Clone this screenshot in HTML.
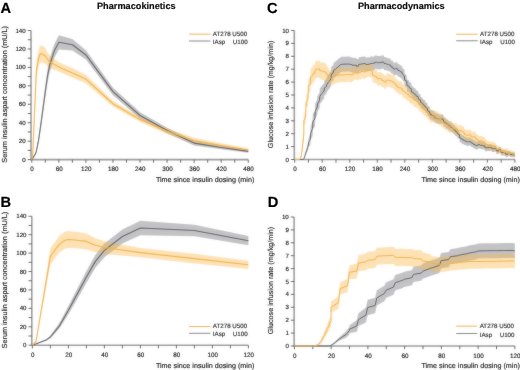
<!DOCTYPE html>
<html><head><meta charset="utf-8"><style>html,body{margin:0;padding:0;background:#fff;overflow:hidden}svg{display:block;text-rendering:geometricPrecision}#w{width:520px;height:370px;overflow:hidden;will-change:transform}</style></head>
<body><div id="w"><svg width="520" height="370" viewBox="0 0 520 370" font-family="Liberation Sans, sans-serif">
<defs><filter id="bl" x="-2%" y="-2%" width="104%" height="104%"><feGaussianBlur stdDeviation="1"/></filter></defs>
<rect width="520" height="370" fill="#fff"/>
<g id="c">
<rect width="520" height="370" fill="#fff"/>
<line x1="31" y1="30.52" x2="31" y2="160.2" stroke="#999" stroke-width="1.6"/>
<line x1="30.4" y1="159.6" x2="248.28" y2="159.6" stroke="#999" stroke-width="1.6"/>
<line x1="27.7" y1="159.6" x2="31" y2="159.6" stroke="#555" stroke-width="0.9"/>
<line x1="27.7" y1="150.38" x2="31" y2="150.38" stroke="#555" stroke-width="0.9"/>
<line x1="27.7" y1="141.16" x2="31" y2="141.16" stroke="#555" stroke-width="0.9"/>
<line x1="27.7" y1="131.94" x2="31" y2="131.94" stroke="#555" stroke-width="0.9"/>
<line x1="27.7" y1="122.72" x2="31" y2="122.72" stroke="#555" stroke-width="0.9"/>
<line x1="27.7" y1="113.5" x2="31" y2="113.5" stroke="#555" stroke-width="0.9"/>
<line x1="27.7" y1="104.28" x2="31" y2="104.28" stroke="#555" stroke-width="0.9"/>
<line x1="27.7" y1="95.06" x2="31" y2="95.06" stroke="#555" stroke-width="0.9"/>
<line x1="27.7" y1="85.84" x2="31" y2="85.84" stroke="#555" stroke-width="0.9"/>
<line x1="27.7" y1="76.62" x2="31" y2="76.62" stroke="#555" stroke-width="0.9"/>
<line x1="27.7" y1="67.4" x2="31" y2="67.4" stroke="#555" stroke-width="0.9"/>
<line x1="27.7" y1="58.18" x2="31" y2="58.18" stroke="#555" stroke-width="0.9"/>
<line x1="27.7" y1="48.96" x2="31" y2="48.96" stroke="#555" stroke-width="0.9"/>
<line x1="27.7" y1="39.74" x2="31" y2="39.74" stroke="#555" stroke-width="0.9"/>
<line x1="27.7" y1="30.52" x2="31" y2="30.52" stroke="#555" stroke-width="0.9"/>
<text x="25.7" y="161.6" font-size="6.15" text-anchor="end" font-weight="normal" fill="#000" stroke="#000" stroke-width="0.14" >0</text>
<text x="25.7" y="143.16" font-size="6.15" text-anchor="end" font-weight="normal" fill="#000" stroke="#000" stroke-width="0.14" >20</text>
<text x="25.7" y="124.72" font-size="6.15" text-anchor="end" font-weight="normal" fill="#000" stroke="#000" stroke-width="0.14" >40</text>
<text x="25.7" y="106.28" font-size="6.15" text-anchor="end" font-weight="normal" fill="#000" stroke="#000" stroke-width="0.14" >60</text>
<text x="25.7" y="87.84" font-size="6.15" text-anchor="end" font-weight="normal" fill="#000" stroke="#000" stroke-width="0.14" >80</text>
<text x="25.7" y="69.4" font-size="6.15" text-anchor="end" font-weight="normal" fill="#000" stroke="#000" stroke-width="0.14" >100</text>
<text x="25.7" y="50.96" font-size="6.15" text-anchor="end" font-weight="normal" fill="#000" stroke="#000" stroke-width="0.14" >120</text>
<text x="25.7" y="32.52" font-size="6.15" text-anchor="end" font-weight="normal" fill="#000" stroke="#000" stroke-width="0.14" >140</text>
<line x1="31.8" y1="159.6" x2="31.8" y2="162.8" stroke="#555" stroke-width="0.9"/>
<line x1="45.33" y1="159.6" x2="45.33" y2="162.8" stroke="#555" stroke-width="0.9"/>
<line x1="58.86" y1="159.6" x2="58.86" y2="162.8" stroke="#555" stroke-width="0.9"/>
<line x1="72.39" y1="159.6" x2="72.39" y2="162.8" stroke="#555" stroke-width="0.9"/>
<line x1="85.92" y1="159.6" x2="85.92" y2="162.8" stroke="#555" stroke-width="0.9"/>
<line x1="99.45" y1="159.6" x2="99.45" y2="162.8" stroke="#555" stroke-width="0.9"/>
<line x1="112.98" y1="159.6" x2="112.98" y2="162.8" stroke="#555" stroke-width="0.9"/>
<line x1="126.51" y1="159.6" x2="126.51" y2="162.8" stroke="#555" stroke-width="0.9"/>
<line x1="140.04" y1="159.6" x2="140.04" y2="162.8" stroke="#555" stroke-width="0.9"/>
<line x1="153.57" y1="159.6" x2="153.57" y2="162.8" stroke="#555" stroke-width="0.9"/>
<line x1="167.1" y1="159.6" x2="167.1" y2="162.8" stroke="#555" stroke-width="0.9"/>
<line x1="180.63" y1="159.6" x2="180.63" y2="162.8" stroke="#555" stroke-width="0.9"/>
<line x1="194.16" y1="159.6" x2="194.16" y2="162.8" stroke="#555" stroke-width="0.9"/>
<line x1="207.69" y1="159.6" x2="207.69" y2="162.8" stroke="#555" stroke-width="0.9"/>
<line x1="221.22" y1="159.6" x2="221.22" y2="162.8" stroke="#555" stroke-width="0.9"/>
<line x1="234.75" y1="159.6" x2="234.75" y2="162.8" stroke="#555" stroke-width="0.9"/>
<line x1="248.28" y1="159.6" x2="248.28" y2="162.8" stroke="#555" stroke-width="0.9"/>
<text x="32.1" y="171.4" font-size="6.3" text-anchor="middle" font-weight="normal" fill="#000" stroke="#000" stroke-width="0.14" >0</text>
<text x="59.16" y="171.4" font-size="6.3" text-anchor="middle" font-weight="normal" fill="#000" stroke="#000" stroke-width="0.14" >60</text>
<text x="86.22" y="171.4" font-size="6.3" text-anchor="middle" font-weight="normal" fill="#000" stroke="#000" stroke-width="0.14" >120</text>
<text x="113.28" y="171.4" font-size="6.3" text-anchor="middle" font-weight="normal" fill="#000" stroke="#000" stroke-width="0.14" >180</text>
<text x="140.34" y="171.4" font-size="6.3" text-anchor="middle" font-weight="normal" fill="#000" stroke="#000" stroke-width="0.14" >240</text>
<text x="167.4" y="171.4" font-size="6.3" text-anchor="middle" font-weight="normal" fill="#000" stroke="#000" stroke-width="0.14" >300</text>
<text x="194.46" y="171.4" font-size="6.3" text-anchor="middle" font-weight="normal" fill="#000" stroke="#000" stroke-width="0.14" >360</text>
<text x="221.52" y="171.4" font-size="6.3" text-anchor="middle" font-weight="normal" fill="#000" stroke="#000" stroke-width="0.14" >420</text>
<text x="248.58" y="171.4" font-size="6.3" text-anchor="middle" font-weight="normal" fill="#000" stroke="#000" stroke-width="0.14" >480</text>
<path d="M31.8,159.6 L35.41,153.15 L36.31,149.83 L38.56,137.47 L40.82,120.41 L43.08,102.9 L45.33,85.38 L47.59,69.24 L49.84,57.72 L54.35,43.89 L58.86,35.13 L72.39,39.09 L85.92,50.34 L112.98,87.87 L140.04,112.3 L167.1,127.7 L194.16,140.79 L221.22,145.59 L248.28,150.01 L248.28,152.78 L221.22,149.27 L194.16,145.4 L167.1,133.23 L140.04,118.76 L112.98,95.24 L85.92,59.56 L72.39,50.53 L58.86,49.51 L54.35,57.72 L49.84,71.55 L47.59,82.15 L45.33,97.36 L43.08,113.04 L40.82,128.71 L38.56,143 L36.31,152.78 L35.41,154.99 L31.8,159.6Z" fill="rgba(105,106,110,0.40)" stroke="none"/>
<path d="M31.8,159.6 L32.7,154.99 L36.31,62.33 L37.66,54.95 L38.56,50.16 L39.92,45.92 L40.82,45.18 L43.08,46.19 L45.33,47.85 L47.59,52.65 L49.84,55.41 L58.86,62.33 L72.39,68.05 L85.92,74.96 L112.98,100.96 L140.04,116.91 L167.1,128.44 L194.16,137.75 L221.22,143.19 L248.28,148.17 L248.28,151.86 L221.22,147.8 L194.16,143.28 L167.1,133.97 L140.04,122.07 L112.98,106.49 L85.92,83.26 L72.39,77.82 L58.86,71.55 L49.84,68.32 L47.59,66.48 L45.33,63.53 L43.08,62.79 L40.82,62.33 L39.92,63.07 L38.56,67.12 L37.66,71.55 L36.31,78.92 L32.7,156.83 L31.8,159.6Z" fill="rgba(250,182,70,0.40)" stroke="none"/>
<path d="M31.8,159.6 L35.41,154.07 L36.31,151.3 L38.56,140.24 L40.82,124.56 L43.08,107.97 L45.33,91.37 L47.59,75.7 L49.84,64.63 L54.35,50.8 L58.86,42.32 L72.39,44.81 L85.92,54.95 L112.98,91.56 L140.04,115.53 L167.1,130.46 L194.16,143.1 L221.22,147.43 L248.28,151.39" fill="none" stroke="#606366" stroke-width="1.1" stroke-linejoin="round"/>
<path d="M31.8,159.6 L32.7,155.91 L36.31,70.63 L37.66,63.25 L38.56,58.64 L39.92,54.49 L40.82,53.75 L43.08,54.49 L45.33,55.69 L47.59,59.56 L49.84,61.87 L58.86,66.94 L72.39,72.93 L85.92,79.11 L112.98,103.73 L140.04,119.49 L167.1,131.2 L194.16,140.51 L221.22,145.49 L248.28,150.01" fill="none" stroke="#F2B346" stroke-width="1.1" stroke-linejoin="round"/>
<line x1="31.8" y1="216.26" x2="31.8" y2="345.8" stroke="#999" stroke-width="1.6"/>
<line x1="31.2" y1="345.2" x2="248.4" y2="345.2" stroke="#999" stroke-width="1.6"/>
<line x1="28.5" y1="345.2" x2="31.8" y2="345.2" stroke="#555" stroke-width="0.9"/>
<line x1="28.5" y1="335.99" x2="31.8" y2="335.99" stroke="#555" stroke-width="0.9"/>
<line x1="28.5" y1="326.78" x2="31.8" y2="326.78" stroke="#555" stroke-width="0.9"/>
<line x1="28.5" y1="317.57" x2="31.8" y2="317.57" stroke="#555" stroke-width="0.9"/>
<line x1="28.5" y1="308.36" x2="31.8" y2="308.36" stroke="#555" stroke-width="0.9"/>
<line x1="28.5" y1="299.15" x2="31.8" y2="299.15" stroke="#555" stroke-width="0.9"/>
<line x1="28.5" y1="289.94" x2="31.8" y2="289.94" stroke="#555" stroke-width="0.9"/>
<line x1="28.5" y1="280.73" x2="31.8" y2="280.73" stroke="#555" stroke-width="0.9"/>
<line x1="28.5" y1="271.52" x2="31.8" y2="271.52" stroke="#555" stroke-width="0.9"/>
<line x1="28.5" y1="262.31" x2="31.8" y2="262.31" stroke="#555" stroke-width="0.9"/>
<line x1="28.5" y1="253.1" x2="31.8" y2="253.1" stroke="#555" stroke-width="0.9"/>
<line x1="28.5" y1="243.89" x2="31.8" y2="243.89" stroke="#555" stroke-width="0.9"/>
<line x1="28.5" y1="234.68" x2="31.8" y2="234.68" stroke="#555" stroke-width="0.9"/>
<line x1="28.5" y1="225.47" x2="31.8" y2="225.47" stroke="#555" stroke-width="0.9"/>
<line x1="28.5" y1="216.26" x2="31.8" y2="216.26" stroke="#555" stroke-width="0.9"/>
<text x="26.5" y="347.2" font-size="6.15" text-anchor="end" font-weight="normal" fill="#000" stroke="#000" stroke-width="0.14" >0</text>
<text x="26.5" y="328.78" font-size="6.15" text-anchor="end" font-weight="normal" fill="#000" stroke="#000" stroke-width="0.14" >20</text>
<text x="26.5" y="310.36" font-size="6.15" text-anchor="end" font-weight="normal" fill="#000" stroke="#000" stroke-width="0.14" >40</text>
<text x="26.5" y="291.94" font-size="6.15" text-anchor="end" font-weight="normal" fill="#000" stroke="#000" stroke-width="0.14" >60</text>
<text x="26.5" y="273.52" font-size="6.15" text-anchor="end" font-weight="normal" fill="#000" stroke="#000" stroke-width="0.14" >80</text>
<text x="26.5" y="255.1" font-size="6.15" text-anchor="end" font-weight="normal" fill="#000" stroke="#000" stroke-width="0.14" >100</text>
<text x="26.5" y="236.68" font-size="6.15" text-anchor="end" font-weight="normal" fill="#000" stroke="#000" stroke-width="0.14" >120</text>
<text x="26.5" y="218.26" font-size="6.15" text-anchor="end" font-weight="normal" fill="#000" stroke="#000" stroke-width="0.14" >140</text>
<line x1="32.4" y1="345.2" x2="32.4" y2="348.4" stroke="#555" stroke-width="0.9"/>
<line x1="50.4" y1="345.2" x2="50.4" y2="348.4" stroke="#555" stroke-width="0.9"/>
<line x1="68.4" y1="345.2" x2="68.4" y2="348.4" stroke="#555" stroke-width="0.9"/>
<line x1="86.4" y1="345.2" x2="86.4" y2="348.4" stroke="#555" stroke-width="0.9"/>
<line x1="104.4" y1="345.2" x2="104.4" y2="348.4" stroke="#555" stroke-width="0.9"/>
<line x1="122.4" y1="345.2" x2="122.4" y2="348.4" stroke="#555" stroke-width="0.9"/>
<line x1="140.4" y1="345.2" x2="140.4" y2="348.4" stroke="#555" stroke-width="0.9"/>
<line x1="158.4" y1="345.2" x2="158.4" y2="348.4" stroke="#555" stroke-width="0.9"/>
<line x1="176.4" y1="345.2" x2="176.4" y2="348.4" stroke="#555" stroke-width="0.9"/>
<line x1="194.4" y1="345.2" x2="194.4" y2="348.4" stroke="#555" stroke-width="0.9"/>
<line x1="212.4" y1="345.2" x2="212.4" y2="348.4" stroke="#555" stroke-width="0.9"/>
<line x1="230.4" y1="345.2" x2="230.4" y2="348.4" stroke="#555" stroke-width="0.9"/>
<line x1="248.4" y1="345.2" x2="248.4" y2="348.4" stroke="#555" stroke-width="0.9"/>
<text x="32.7" y="357" font-size="6.3" text-anchor="middle" font-weight="normal" fill="#000" stroke="#000" stroke-width="0.14" >0</text>
<text x="68.7" y="357" font-size="6.3" text-anchor="middle" font-weight="normal" fill="#000" stroke="#000" stroke-width="0.14" >20</text>
<text x="104.7" y="357" font-size="6.3" text-anchor="middle" font-weight="normal" fill="#000" stroke="#000" stroke-width="0.14" >40</text>
<text x="140.7" y="357" font-size="6.3" text-anchor="middle" font-weight="normal" fill="#000" stroke="#000" stroke-width="0.14" >60</text>
<text x="176.7" y="357" font-size="6.3" text-anchor="middle" font-weight="normal" fill="#000" stroke="#000" stroke-width="0.14" >80</text>
<text x="212.7" y="357" font-size="6.3" text-anchor="middle" font-weight="normal" fill="#000" stroke="#000" stroke-width="0.14" >100</text>
<text x="248.7" y="357" font-size="6.3" text-anchor="middle" font-weight="normal" fill="#000" stroke="#000" stroke-width="0.14" >120</text>
<path d="M32.4,345.2 L46.8,338.75 L50.4,335.44 L59.4,323.1 L68.4,306.06 L77.4,288.56 L86.4,271.06 L95.4,254.94 L104.4,243.43 L122.4,229.61 L140.4,220.86 L194.4,224.83 L248.4,236.06 L248.4,245.27 L194.4,236.25 L140.4,235.23 L122.4,243.43 L104.4,257.24 L95.4,267.84 L86.4,283.03 L77.4,298.69 L68.4,314.35 L59.4,328.62 L50.4,338.38 L46.8,340.59 L32.4,345.2Z" fill="rgba(105,106,110,0.40)" stroke="none"/>
<path d="M32.4,345.2 L36,340.59 L50.4,248.03 L55.8,240.67 L59.4,235.88 L64.8,231.64 L68.4,230.9 L77.4,231.92 L86.4,233.57 L95.4,238.36 L104.4,241.13 L140.4,248.03 L194.4,253.74 L248.4,260.65 L248.4,268.94 L194.4,263.51 L140.4,257.24 L104.4,254.02 L95.4,252.18 L86.4,249.23 L77.4,248.5 L68.4,248.03 L64.8,248.77 L59.4,252.82 L55.8,257.24 L50.4,264.61 L36,342.44 L32.4,345.2Z" fill="rgba(250,182,70,0.40)" stroke="none"/>
<path d="M32.4,345.2 L46.8,339.67 L50.4,336.91 L59.4,325.86 L68.4,310.2 L77.4,293.62 L86.4,277.05 L95.4,261.39 L104.4,250.34 L122.4,236.52 L140.4,228.05 L194.4,230.54 L248.4,240.67" fill="none" stroke="#606366" stroke-width="1.1" stroke-linejoin="round"/>
<path d="M32.4,345.2 L36,341.52 L50.4,256.32 L55.8,248.96 L59.4,244.35 L64.8,240.21 L68.4,239.47 L77.4,240.21 L86.4,241.4 L95.4,245.27 L104.4,247.57 L140.4,252.64 L194.4,258.63 L248.4,264.8" fill="none" stroke="#F2B346" stroke-width="1.1" stroke-linejoin="round"/>
<line x1="294.3" y1="30.5" x2="294.3" y2="160.1" stroke="#999" stroke-width="1.6"/>
<line x1="293.7" y1="159.5" x2="514.92" y2="159.5" stroke="#999" stroke-width="1.6"/>
<line x1="291" y1="159.5" x2="294.3" y2="159.5" stroke="#555" stroke-width="0.9"/>
<line x1="291" y1="146.6" x2="294.3" y2="146.6" stroke="#555" stroke-width="0.9"/>
<line x1="291" y1="133.7" x2="294.3" y2="133.7" stroke="#555" stroke-width="0.9"/>
<line x1="291" y1="120.8" x2="294.3" y2="120.8" stroke="#555" stroke-width="0.9"/>
<line x1="291" y1="107.9" x2="294.3" y2="107.9" stroke="#555" stroke-width="0.9"/>
<line x1="291" y1="95" x2="294.3" y2="95" stroke="#555" stroke-width="0.9"/>
<line x1="291" y1="82.1" x2="294.3" y2="82.1" stroke="#555" stroke-width="0.9"/>
<line x1="291" y1="69.2" x2="294.3" y2="69.2" stroke="#555" stroke-width="0.9"/>
<line x1="291" y1="56.3" x2="294.3" y2="56.3" stroke="#555" stroke-width="0.9"/>
<line x1="291" y1="43.4" x2="294.3" y2="43.4" stroke="#555" stroke-width="0.9"/>
<line x1="291" y1="30.5" x2="294.3" y2="30.5" stroke="#555" stroke-width="0.9"/>
<text x="289" y="161.5" font-size="6.15" text-anchor="end" font-weight="normal" fill="#000" stroke="#000" stroke-width="0.14" >0</text>
<text x="289" y="148.6" font-size="6.15" text-anchor="end" font-weight="normal" fill="#000" stroke="#000" stroke-width="0.14" >1</text>
<text x="289" y="135.7" font-size="6.15" text-anchor="end" font-weight="normal" fill="#000" stroke="#000" stroke-width="0.14" >2</text>
<text x="289" y="122.8" font-size="6.15" text-anchor="end" font-weight="normal" fill="#000" stroke="#000" stroke-width="0.14" >3</text>
<text x="289" y="109.9" font-size="6.15" text-anchor="end" font-weight="normal" fill="#000" stroke="#000" stroke-width="0.14" >4</text>
<text x="289" y="97" font-size="6.15" text-anchor="end" font-weight="normal" fill="#000" stroke="#000" stroke-width="0.14" >5</text>
<text x="289" y="84.1" font-size="6.15" text-anchor="end" font-weight="normal" fill="#000" stroke="#000" stroke-width="0.14" >6</text>
<text x="289" y="71.2" font-size="6.15" text-anchor="end" font-weight="normal" fill="#000" stroke="#000" stroke-width="0.14" >7</text>
<text x="289" y="58.3" font-size="6.15" text-anchor="end" font-weight="normal" fill="#000" stroke="#000" stroke-width="0.14" >8</text>
<text x="289" y="45.4" font-size="6.15" text-anchor="end" font-weight="normal" fill="#000" stroke="#000" stroke-width="0.14" >9</text>
<text x="289" y="32.5" font-size="6.15" text-anchor="end" font-weight="normal" fill="#000" stroke="#000" stroke-width="0.14" >10</text>
<line x1="294.7" y1="159.5" x2="294.7" y2="162.7" stroke="#555" stroke-width="0.9"/>
<line x1="308.46" y1="159.5" x2="308.46" y2="162.7" stroke="#555" stroke-width="0.9"/>
<line x1="322.23" y1="159.5" x2="322.23" y2="162.7" stroke="#555" stroke-width="0.9"/>
<line x1="335.99" y1="159.5" x2="335.99" y2="162.7" stroke="#555" stroke-width="0.9"/>
<line x1="349.76" y1="159.5" x2="349.76" y2="162.7" stroke="#555" stroke-width="0.9"/>
<line x1="363.52" y1="159.5" x2="363.52" y2="162.7" stroke="#555" stroke-width="0.9"/>
<line x1="377.28" y1="159.5" x2="377.28" y2="162.7" stroke="#555" stroke-width="0.9"/>
<line x1="391.05" y1="159.5" x2="391.05" y2="162.7" stroke="#555" stroke-width="0.9"/>
<line x1="404.81" y1="159.5" x2="404.81" y2="162.7" stroke="#555" stroke-width="0.9"/>
<line x1="418.58" y1="159.5" x2="418.58" y2="162.7" stroke="#555" stroke-width="0.9"/>
<line x1="432.34" y1="159.5" x2="432.34" y2="162.7" stroke="#555" stroke-width="0.9"/>
<line x1="446.1" y1="159.5" x2="446.1" y2="162.7" stroke="#555" stroke-width="0.9"/>
<line x1="459.87" y1="159.5" x2="459.87" y2="162.7" stroke="#555" stroke-width="0.9"/>
<line x1="473.63" y1="159.5" x2="473.63" y2="162.7" stroke="#555" stroke-width="0.9"/>
<line x1="487.4" y1="159.5" x2="487.4" y2="162.7" stroke="#555" stroke-width="0.9"/>
<line x1="501.16" y1="159.5" x2="501.16" y2="162.7" stroke="#555" stroke-width="0.9"/>
<line x1="514.92" y1="159.5" x2="514.92" y2="162.7" stroke="#555" stroke-width="0.9"/>
<text x="295" y="171.3" font-size="6.3" text-anchor="middle" font-weight="normal" fill="#000" stroke="#000" stroke-width="0.14" >0</text>
<text x="322.53" y="171.3" font-size="6.3" text-anchor="middle" font-weight="normal" fill="#000" stroke="#000" stroke-width="0.14" >60</text>
<text x="350.06" y="171.3" font-size="6.3" text-anchor="middle" font-weight="normal" fill="#000" stroke="#000" stroke-width="0.14" >120</text>
<text x="377.58" y="171.3" font-size="6.3" text-anchor="middle" font-weight="normal" fill="#000" stroke="#000" stroke-width="0.14" >180</text>
<text x="405.11" y="171.3" font-size="6.3" text-anchor="middle" font-weight="normal" fill="#000" stroke="#000" stroke-width="0.14" >240</text>
<text x="432.64" y="171.3" font-size="6.3" text-anchor="middle" font-weight="normal" fill="#000" stroke="#000" stroke-width="0.14" >300</text>
<text x="460.17" y="171.3" font-size="6.3" text-anchor="middle" font-weight="normal" fill="#000" stroke="#000" stroke-width="0.14" >360</text>
<text x="487.7" y="171.3" font-size="6.3" text-anchor="middle" font-weight="normal" fill="#000" stroke="#000" stroke-width="0.14" >420</text>
<text x="515.22" y="171.3" font-size="6.3" text-anchor="middle" font-weight="normal" fill="#000" stroke="#000" stroke-width="0.14" >480</text>
<path d="M304.11,157.56 L304.79,155.2 L305.71,151.4 L306.63,148.15 L307.55,145.05 L308.46,140.15 L308.4,138.92 L310.28,133.6 L310.69,126.68 L312.57,121.07 L312.98,113.36 L314.86,111.27 L315.28,103.66 L317.16,99.29 L317.57,96.06 L319.45,92.85 L319.87,88.6 L321.75,86.03 L322.16,85.13 L324.04,83.47 L324.45,80.25 L326.33,78.97 L326.75,77.04 L328.63,74.21 L329.04,73.83 L330.92,71.26 L331.34,66.49 L333.22,65.47 L333.63,62.64 L335.51,61.62 L335.92,60.98 L337.8,59.7 L338.22,59.06 L340.1,57.78 L340.51,57.01 L342.39,56.76 L342.81,56.77 L344.69,56.65 L345.1,56.65 L346.98,56.54 L347.39,56.54 L349.27,56.55 L349.69,56.86 L351.57,57.14 L351.98,57.79 L353.86,57.82 L354.28,57.88 L356.16,57.74 L356.57,59.04 L358.45,58.89 L358.86,57.13 L360.74,56.99 L361.16,56.8 L363.04,56.83 L363.45,56.52 L365.33,56.55 L365.75,57.41 L367.63,57.44 L368.04,57.24 L369.92,57.27 L370.33,56.62 L372.21,56.52 L372.63,56.59 L374.51,56.5 L374.92,55.51 L376.8,55.41 L377.22,55.96 L379.1,56.01 L379.51,55.86 L381.39,56.13 L381.8,55.34 L383.68,55.61 L384.1,56.93 L385.98,57.2 L386.39,57.64 L388.27,57.97 L388.69,58.34 L390.57,58.68 L390.98,60.49 L392.86,60.83 L393.27,62.48 L395.15,62.83 L395.57,62.14 L397.45,62.52 L397.86,64.03 L399.74,64.41 L400.16,65.32 L402.04,65.96 L402.45,67.91 L404.33,69.62 L404.74,73.86 L406.62,74.94 L407.04,79.38 L408.92,80.3 L409.33,81.89 L411.21,82.76 L411.63,86.04 L413.51,86.73 L413.92,88.09 L415.8,88.78 L416.21,90.4 L418.09,91.09 L418.51,93.72 L420.39,94.49 L420.8,97.08 L422.68,97.96 L423.1,99.45 L424.98,100.33 L425.39,102.17 L427.27,103.05 L427.68,105.74 L429.56,106.62 L429.98,109.35 L431.86,109.89 L432.27,110.81 L434.15,111.08 L434.57,112.83 L436.45,113.1 L436.86,113.79 L438.74,114.06 L439.15,114.4 L441.03,114.67 L441.45,114.21 L443.33,114.66 L443.74,117.33 L445.62,117.78 L446.04,119.19 L447.92,119.64 L448.33,120.91 L450.21,121.36 L450.62,122.72 L452.5,123.32 L452.92,124.44 L454.8,125.25 L455.21,126.89 L457.09,127.7 L457.51,129.45 L459.39,130.27 L459.8,133.73 L461.68,134.22 L462.09,135.48 L463.97,135.76 L464.39,136.64 L466.27,136.92 L466.68,137.58 L468.56,137.85 L468.98,137.45 L470.86,137.73 L471.27,138.96 L473.15,139.23 L473.56,140.61 L475.44,140.8 L475.86,141.61 L477.74,141.8 L478.15,140.68 L480.03,140.91 L480.45,141.55 L482.33,141.78 L482.74,141.97 L484.62,142.2 L485.03,144.03 L486.91,144.26 L487.33,144.03 L489.21,144.26 L489.62,143.88 L491.5,144.12 L491.92,145.36 L493.8,145.6 L494.21,145.27 L496.09,145.5 L496.5,147.8 L498.38,148.03 L498.8,146.64 L500.68,146.88 L501.09,149.5 L502.97,149.8 L503.39,149.64 L505.27,149.94 L505.68,151.53 L507.56,151.83 L507.97,150.68 L509.85,150.98 L510.27,151.95 L512.15,152.25 L512.56,152.26 L514.44,152.56 L514.92,152.56 L514.92,157.24 L514.44,157.24 L512.56,157.1 L512.15,157.12 L510.27,156.98 L509.85,156.05 L507.97,155.91 L507.56,157.1 L505.68,156.95 L505.27,155.4 L503.39,155.26 L502.97,155.45 L501.09,155.31 L500.68,152.72 L498.8,152.65 L498.38,154.07 L496.5,153.99 L496.09,151.73 L494.21,151.66 L493.8,152.03 L491.92,151.95 L491.5,150.74 L489.62,150.66 L489.21,151.08 L487.33,151 L486.91,151.27 L485.03,151.2 L484.62,149.4 L482.74,149.33 L482.33,149.18 L480.45,149.11 L480.03,148.5 L478.15,148.43 L477.74,149.56 L475.86,149.45 L475.44,148.66 L473.56,148.56 L473.15,147.2 L471.27,147.01 L470.86,145.8 L468.98,145.61 L468.56,146.03 L466.68,145.84 L466.27,145.19 L464.39,145.01 L463.97,144.14 L462.09,143.95 L461.68,142.71 L459.8,142.3 L459.39,138.86 L457.51,138.13 L457.09,136.39 L455.21,135.66 L454.8,134.05 L452.92,133.32 L452.5,132.22 L450.62,131.71 L450.21,130.36 L448.33,129.99 L447.92,128.75 L446.04,128.38 L445.62,126.98 L443.74,126.62 L443.33,123.97 L441.45,123.6 L441.03,124.08 L439.15,123.9 L438.74,123.57 L436.86,123.39 L436.45,122.72 L434.57,122.54 L434.15,120.8 L432.27,120.62 L431.86,119.74 L429.98,119.38 L429.56,116.69 L427.68,115.98 L427.27,113.33 L425.39,112.62 L424.98,110.83 L423.1,110.12 L422.68,108.67 L420.8,107.96 L420.39,105.41 L418.51,104.82 L418.09,102.23 L416.21,101.72 L415.8,100.13 L413.92,99.62 L413.51,98.3 L411.63,97.79 L411.21,94.54 L409.33,93.85 L408.92,92.3 L407.04,91.55 L406.62,87.16 L404.74,86.24 L404.33,82.01 L402.45,80.36 L402.04,78.42 L400.16,77.83 L399.74,76.94 L397.86,76.61 L397.45,75.11 L395.57,74.78 L395.15,75.49 L393.27,75.19 L392.86,73.55 L390.98,73.27 L390.57,71.46 L388.69,71.17 L388.27,70.81 L386.39,70.55 L385.98,70.13 L384.1,69.97 L383.68,68.66 L381.8,68.5 L381.39,69.32 L379.51,69.15 L379.1,69.32 L377.22,69.38 L376.8,68.85 L374.92,69.06 L374.51,70.07 L372.63,70.27 L372.21,70.22 L370.33,70.43 L369.92,71.1 L368.04,71.17 L367.63,71.4 L365.75,71.48 L365.33,70.64 L363.45,70.71 L363.04,71.04 L361.16,71.12 L360.74,71.33 L358.86,71.58 L358.45,73.37 L356.57,73.62 L356.16,72.34 L354.28,72.59 L353.86,72.55 L351.98,72.63 L351.57,72 L349.69,71.83 L349.27,71.53 L347.39,71.54 L346.98,71.54 L345.1,71.68 L344.69,71.69 L342.81,71.83 L342.39,71.83 L340.51,72.1 L340.1,72.88 L338.22,74.18 L337.8,74.83 L335.92,76.13 L335.51,76.78 L333.63,77.83 L333.22,80.67 L331.34,81.71 L330.92,86.49 L329.04,89.08 L328.63,89.47 L326.75,92.32 L326.33,94.26 L324.45,95.56 L324.04,98.79 L322.16,100.48 L321.75,101.39 L319.87,103.98 L319.45,108.24 L317.57,111.48 L317.16,114.71 L315.28,119.11 L314.86,126.72 L312.98,128.76 L312.57,136.01 L310.69,139.43 L310.28,145.41 L308.4,146.54 L308.46,147.89 L307.55,151.24 L306.63,152.79 L305.71,154.7 L304.79,157.35 L304.11,158.85Z" fill="rgba(105,106,110,0.40)" stroke="none"/>
<path d="M299.66,159.24 L300.44,157.5 L301.26,153.5 L302.13,145.83 L302.96,137.57 L303.88,127.89 L303.81,115.09 L305.69,110.12 L306.1,95.84 L307.98,92.43 L308.4,78.89 L310.28,77.08 L310.69,68.72 L312.57,66.98 L312.98,65.3 L314.86,64.6 L315.28,61.37 L317.16,60.67 L317.57,60.66 L319.45,60.23 L319.87,62.28 L321.75,62.23 L322.16,62.48 L324.04,62.43 L324.45,63.33 L326.33,63.67 L326.75,65.85 L328.63,67.64 L329.04,69.68 L330.92,70.39 L331.34,70.79 L333.22,69.79 L333.63,69.28 L335.51,68.67 L335.92,68.3 L337.8,68.07 L338.22,67.69 L340.1,67.73 L340.51,67.74 L342.39,67.64 L342.81,67.65 L344.69,67.56 L345.1,67.56 L346.98,67.47 L347.39,67.48 L349.27,67.26 L349.69,68.02 L351.57,67.88 L351.98,67.15 L353.86,67.01 L354.28,65.68 L356.16,65.54 L356.57,66.13 L358.45,65.99 L358.86,65.41 L360.74,65.27 L361.16,64.61 L363.04,64.46 L363.45,64.92 L365.33,64.82 L365.75,63.69 L367.63,63.59 L368.04,62.94 L369.92,63.21 L370.33,63.58 L372.21,64.41 L372.63,68.45 L374.51,68.88 L374.92,69.61 L376.8,70.03 L377.22,71.74 L379.1,72.16 L379.51,71.71 L381.39,72.13 L381.8,73.61 L383.68,73.69 L384.1,75.37 L385.98,75.44 L386.39,73.42 L388.27,73.5 L388.69,73.7 L390.57,73.78 L390.98,74.66 L392.86,75.02 L393.27,76.13 L395.15,76.56 L395.57,78.86 L397.45,79.29 L397.86,80.86 L399.74,81.29 L400.16,81.34 L402.04,81.8 L402.45,84.21 L404.33,84.71 L404.74,85.86 L406.62,86.37 L407.04,87.7 L408.92,88.21 L409.33,90.16 L411.21,90.74 L411.63,91.39 L413.51,91.98 L413.92,93.69 L415.8,94.27 L416.21,95 L418.09,95.58 L418.51,97.99 L420.39,98.58 L420.8,99.99 L422.68,100.59 L423.1,102.63 L424.98,103.23 L425.39,104.57 L427.27,105.17 L427.68,107.36 L429.56,107.96 L429.98,110.09 L431.86,110.49 L432.27,109.92 L434.15,110.19 L434.57,110.89 L436.45,111.16 L436.86,112.22 L438.74,112.49 L439.15,113.5 L441.03,113.77 L441.45,115.38 L443.33,115.81 L443.74,117.22 L445.62,117.65 L446.04,118.72 L447.92,119.16 L448.33,120.87 L450.21,121.31 L450.62,120.9 L452.5,121.27 L452.92,123.15 L454.8,123.43 L455.21,123.14 L457.09,123.43 L457.51,125.25 L459.39,125.53 L459.8,124.95 L461.68,125.23 L462.09,126.24 L463.97,126.53 L464.39,129.24 L466.27,129.54 L466.68,129.86 L468.56,130.17 L468.98,129.36 L470.86,129.67 L471.27,131.51 L473.15,131.82 L473.56,131.45 L475.44,131.76 L475.86,133.93 L477.74,134.24 L478.15,135.82 L480.03,136.24 L480.45,135.84 L482.33,136.26 L482.74,136.8 L484.62,137.22 L485.03,139.3 L486.91,139.72 L487.33,141.03 L489.21,141.42 L489.62,141.66 L491.5,142.04 L491.92,141.33 L493.8,141.7 L494.21,142.93 L496.09,143.31 L496.5,145.55 L498.38,145.92 L498.8,146.38 L500.68,146.75 L501.09,147.84 L502.97,148.15 L503.39,148.79 L505.27,149.09 L505.68,147.93 L507.56,148.23 L507.97,150.21 L509.85,150.52 L510.27,150.18 L512.15,150.48 L512.56,151.29 L514.44,151.59 L514.92,151.59 L514.92,156.82 L514.44,156.82 L512.56,156.78 L512.15,156.03 L510.27,155.99 L509.85,156.39 L507.97,156.35 L507.56,154.43 L505.68,154.39 L505.27,155.61 L503.39,155.57 L502.97,154.99 L501.09,154.95 L500.68,153.91 L498.8,153.8 L498.38,153.41 L496.5,153.3 L496.09,151.11 L494.21,151 L493.8,149.83 L491.92,149.72 L491.5,150.49 L489.62,150.38 L489.21,150.2 L487.33,150.07 L486.91,148.81 L485.03,148.66 L484.62,146.64 L482.74,146.49 L482.33,146 L480.45,145.85 L480.03,146.3 L478.15,146.15 L477.74,144.58 L475.86,144.34 L475.44,142.18 L473.56,141.95 L473.15,142.33 L471.27,142.09 L470.86,140.26 L468.98,140.03 L468.56,140.85 L466.68,140.62 L466.27,140.31 L464.39,140.08 L463.97,137.38 L462.09,137.17 L461.68,136.17 L459.8,135.96 L459.39,136.55 L457.51,136.34 L457.09,134.54 L455.21,134.33 L454.8,134.63 L452.92,134.41 L452.5,132.56 L450.62,132.25 L450.21,132.68 L448.33,132.31 L447.92,130.61 L446.04,130.25 L445.62,129.2 L443.74,128.83 L443.33,127.44 L441.45,127.08 L441.03,125.48 L439.15,125.28 L438.74,124.29 L436.86,124.09 L436.45,123.05 L434.57,122.85 L434.15,122.16 L432.27,121.96 L431.86,122.54 L429.98,122.21 L429.56,120.1 L427.68,119.57 L427.27,117.4 L425.39,116.87 L424.98,115.55 L423.1,115.02 L422.68,113 L420.8,112.46 L420.39,111.07 L418.51,110.55 L418.09,108.15 L416.21,107.64 L415.8,106.93 L413.92,106.42 L413.51,104.72 L411.63,104.21 L411.21,103.57 L409.33,103.06 L408.92,101.12 L407.04,100.66 L406.62,99.33 L404.74,98.87 L404.33,97.72 L402.45,97.26 L402.04,94.86 L400.16,94.44 L399.74,94.4 L397.86,94.01 L397.45,92.45 L395.57,92.06 L395.15,89.77 L393.27,89.38 L392.86,88.28 L390.98,87.96 L390.57,87.08 L388.69,87.05 L388.27,86.85 L386.39,86.82 L385.98,88.85 L384.1,88.81 L383.68,87.14 L381.8,87.11 L381.39,85.63 L379.51,85.25 L379.1,85.72 L377.22,85.33 L376.8,83.63 L374.92,83.25 L374.51,82.53 L372.63,82.15 L372.21,78.11 L370.33,77.33 L369.92,76.97 L368.04,76.74 L367.63,77.39 L365.75,77.53 L365.33,78.67 L363.45,78.81 L363.04,78.37 L361.16,78.55 L360.74,79.22 L358.86,79.4 L358.45,79.99 L356.57,80.17 L356.16,79.59 L354.28,79.78 L353.86,81.11 L351.98,81.29 L351.57,82.03 L349.69,82.21 L349.27,81.46 L347.39,81.76 L346.98,81.77 L345.1,81.93 L344.69,81.94 L342.81,82.1 L342.39,82.11 L340.51,82.27 L340.1,82.28 L338.22,82.32 L337.8,82.71 L335.92,83 L335.51,83.4 L333.63,84.08 L333.22,84.6 L331.34,85.67 L330.92,85.29 L329.04,84.72 L328.63,83.14 L326.75,83.39 L326.33,81.18 L324.45,80.75 L324.04,79.84 L322.16,79.79 L321.75,79.52 L319.87,79.47 L319.45,77.4 L317.57,77.74 L317.16,77.73 L315.28,78.32 L314.86,81.54 L312.98,82.13 L312.57,83.8 L310.69,84.38 L310.28,92.28 L308.4,92.53 L307.98,105.83 L306.1,108.35 L305.69,122.45 L303.81,126.51 L303.88,139.5 L302.96,146.6 L302.13,152.53 L301.26,157.76 L300.44,159.44 L299.66,159.5Z" fill="rgba(250,182,70,0.40)" stroke="none"/>
<path d="M294.7,159.5 L303.42,159.5 L304.11,158.21 L304.79,156.28 L305.71,153.05 L306.63,150.47 L307.55,148.15 L308.46,144.02 L308.4,142.73 L310.28,139.5 L310.69,133.06 L312.57,128.54 L312.98,121.06 L314.86,118.99 L315.28,111.38 L317.16,107 L317.57,103.77 L319.45,100.55 L319.87,96.29 L321.75,93.71 L322.16,92.81 L324.04,91.13 L324.45,87.91 L326.33,86.61 L326.75,84.68 L328.63,81.84 L329.04,81.45 L330.92,78.88 L331.34,74.1 L333.22,73.07 L333.63,70.23 L335.51,69.2 L335.92,68.56 L337.8,67.26 L338.22,66.62 L340.1,65.33 L340.51,64.56 L342.39,64.3 L342.81,64.3 L344.69,64.17 L345.1,64.17 L346.98,64.04 L347.39,64.04 L349.27,64.04 L349.69,64.34 L351.57,64.57 L351.98,65.21 L353.86,65.18 L354.28,65.24 L356.16,65.04 L356.57,66.33 L358.45,66.13 L358.86,64.36 L360.74,64.16 L361.16,63.96 L363.04,63.93 L363.45,63.62 L365.33,63.59 L365.75,64.45 L367.63,64.42 L368.04,64.21 L369.92,64.18 L370.33,63.52 L372.21,63.37 L372.63,63.43 L374.51,63.28 L374.92,62.28 L376.8,62.13 L377.22,62.67 L379.1,62.67 L379.51,62.51 L381.39,62.72 L381.8,61.92 L383.68,62.13 L384.1,63.45 L385.98,63.66 L386.39,64.1 L388.27,64.39 L388.69,64.76 L390.57,65.07 L390.98,66.88 L392.86,67.19 L393.27,68.83 L395.15,69.16 L395.57,68.46 L397.45,68.81 L397.86,70.32 L399.74,70.68 L400.16,71.57 L402.04,72.19 L402.45,74.13 L404.33,75.82 L404.74,80.05 L406.62,81.05 L407.04,85.46 L408.92,86.3 L409.33,87.87 L411.21,88.65 L411.63,91.92 L413.51,92.52 L413.92,93.86 L415.8,94.46 L416.21,96.06 L418.09,96.66 L418.51,99.27 L420.39,99.95 L420.8,102.52 L422.68,103.31 L423.1,104.79 L424.98,105.58 L425.39,107.39 L427.27,108.19 L427.68,110.86 L429.56,111.65 L429.98,114.36 L431.86,114.82 L432.27,115.72 L434.15,115.94 L434.57,117.69 L436.45,117.91 L436.86,118.59 L438.74,118.81 L439.15,119.15 L441.03,119.38 L441.45,118.91 L443.33,119.31 L443.74,121.97 L445.62,122.38 L446.04,123.79 L447.92,124.19 L448.33,125.45 L450.21,125.86 L450.62,127.22 L452.5,127.77 L452.92,128.88 L454.8,129.65 L455.21,131.28 L457.09,132.05 L457.51,133.79 L459.39,134.56 L459.8,138.02 L461.68,138.46 L462.09,139.72 L463.97,139.95 L464.39,140.83 L466.27,141.06 L466.68,141.71 L468.56,141.94 L468.98,141.53 L470.86,141.76 L471.27,142.98 L473.15,143.22 L473.56,144.58 L475.44,144.73 L475.86,145.53 L477.74,145.68 L478.15,144.56 L480.03,144.7 L480.45,145.33 L482.33,145.48 L482.74,145.65 L484.62,145.8 L485.03,147.61 L486.91,147.77 L487.33,147.51 L489.21,147.67 L489.62,147.27 L491.5,147.43 L491.92,148.66 L493.8,148.81 L494.21,148.46 L496.09,148.62 L496.5,150.89 L498.38,151.05 L498.8,149.64 L500.68,149.8 L501.09,152.4 L502.97,152.62 L503.39,152.45 L505.27,152.67 L505.68,154.24 L507.56,154.46 L507.97,153.3 L509.85,153.52 L510.27,154.46 L512.15,154.68 L512.56,154.68 L514.44,154.9 L514.92,154.9" fill="none" stroke="#606366" stroke-width="1.0" stroke-linejoin="round"/>
<path d="M294.7,159.5 L299.66,159.5 L300.44,158.47 L301.26,155.63 L302.13,149.18 L302.96,142.09 L303.88,133.7 L303.81,120.8 L305.69,116.28 L306.1,102.09 L307.98,99.13 L308.4,85.71 L310.28,84.68 L310.69,76.55 L312.57,75.39 L312.98,73.71 L314.86,73.07 L315.28,69.84 L317.16,69.2 L317.57,69.2 L319.45,68.81 L319.87,70.88 L321.75,70.88 L322.16,71.14 L324.04,71.14 L324.45,72.04 L326.33,72.42 L326.75,74.62 L328.63,75.39 L329.04,77.2 L330.92,77.84 L331.34,78.23 L333.22,77.2 L333.63,76.68 L335.51,76.04 L335.92,75.65 L337.8,75.39 L338.22,75 L340.1,75 L340.51,75 L342.39,74.88 L342.81,74.88 L344.69,74.75 L345.1,74.75 L346.98,74.62 L347.39,74.62 L349.27,74.36 L349.69,75.12 L351.57,74.95 L351.98,74.22 L353.86,74.06 L354.28,72.73 L356.16,72.57 L356.57,73.15 L358.45,72.99 L358.86,72.41 L360.74,72.25 L361.16,71.58 L363.04,71.42 L363.45,71.87 L365.33,71.74 L365.75,70.61 L367.63,70.49 L368.04,69.84 L369.92,70.09 L370.33,70.45 L372.21,71.26 L372.63,75.3 L374.51,75.71 L374.92,76.43 L376.8,76.83 L377.22,78.54 L379.1,78.94 L379.51,78.48 L381.39,78.88 L381.8,80.36 L383.68,80.41 L384.1,82.09 L385.98,82.14 L386.39,80.12 L388.27,80.17 L388.69,80.38 L390.57,80.43 L390.98,81.31 L392.86,81.65 L393.27,82.76 L395.15,83.17 L395.57,85.46 L397.45,85.87 L397.86,87.44 L399.74,87.85 L400.16,87.89 L402.04,88.33 L402.45,90.73 L404.33,91.22 L404.74,92.37 L406.62,92.85 L407.04,94.18 L408.92,94.66 L409.33,96.61 L411.21,97.16 L411.63,97.8 L413.51,98.35 L413.92,100.05 L415.8,100.6 L416.21,101.32 L418.09,101.87 L418.51,104.27 L420.39,104.83 L420.8,106.23 L422.68,106.8 L423.1,108.82 L424.98,109.39 L425.39,110.72 L427.27,111.28 L427.68,113.46 L429.56,114.03 L429.98,116.15 L431.86,116.52 L432.27,115.94 L434.15,116.17 L434.57,116.87 L436.45,117.1 L436.86,118.16 L438.74,118.39 L439.15,119.39 L441.03,119.62 L441.45,121.23 L443.33,121.63 L443.74,123.03 L445.62,123.43 L446.04,124.49 L447.92,124.89 L448.33,126.59 L450.21,126.99 L450.62,126.58 L452.5,126.91 L452.92,128.78 L454.8,129.03 L455.21,128.73 L457.09,128.98 L457.51,130.79 L459.39,131.04 L459.8,130.46 L461.68,130.7 L462.09,131.7 L463.97,131.95 L464.39,134.66 L466.27,134.93 L466.68,135.24 L468.56,135.51 L468.98,134.7 L470.86,134.97 L471.27,136.8 L473.15,137.07 L473.56,136.7 L475.44,136.97 L475.86,139.14 L477.74,139.41 L478.15,140.98 L480.03,141.27 L480.45,140.84 L482.33,141.13 L482.74,141.65 L484.62,141.93 L485.03,143.98 L486.91,144.26 L487.33,145.55 L489.21,145.81 L489.62,146.02 L491.5,146.26 L491.92,145.52 L493.8,145.76 L494.21,146.97 L496.09,147.21 L496.5,149.42 L498.38,149.66 L498.8,150.09 L500.68,150.33 L501.09,151.4 L502.97,151.57 L503.39,152.18 L505.27,152.35 L505.68,151.16 L507.56,151.33 L507.97,153.28 L509.85,153.45 L510.27,153.08 L512.15,153.26 L512.56,154.03 L514.44,154.2 L514.92,154.2" fill="none" stroke="#F2B346" stroke-width="1.0" stroke-linejoin="round"/>
<line x1="294.1" y1="217" x2="294.1" y2="346.6" stroke="#999" stroke-width="1.6"/>
<line x1="293.5" y1="346" x2="514.9" y2="346" stroke="#999" stroke-width="1.6"/>
<line x1="290.8" y1="346" x2="294.1" y2="346" stroke="#555" stroke-width="0.9"/>
<line x1="290.8" y1="333.1" x2="294.1" y2="333.1" stroke="#555" stroke-width="0.9"/>
<line x1="290.8" y1="320.2" x2="294.1" y2="320.2" stroke="#555" stroke-width="0.9"/>
<line x1="290.8" y1="307.3" x2="294.1" y2="307.3" stroke="#555" stroke-width="0.9"/>
<line x1="290.8" y1="294.4" x2="294.1" y2="294.4" stroke="#555" stroke-width="0.9"/>
<line x1="290.8" y1="281.5" x2="294.1" y2="281.5" stroke="#555" stroke-width="0.9"/>
<line x1="290.8" y1="268.6" x2="294.1" y2="268.6" stroke="#555" stroke-width="0.9"/>
<line x1="290.8" y1="255.7" x2="294.1" y2="255.7" stroke="#555" stroke-width="0.9"/>
<line x1="290.8" y1="242.8" x2="294.1" y2="242.8" stroke="#555" stroke-width="0.9"/>
<line x1="290.8" y1="229.9" x2="294.1" y2="229.9" stroke="#555" stroke-width="0.9"/>
<line x1="290.8" y1="217" x2="294.1" y2="217" stroke="#555" stroke-width="0.9"/>
<text x="288.8" y="348" font-size="6.15" text-anchor="end" font-weight="normal" fill="#000" stroke="#000" stroke-width="0.14" >0</text>
<text x="288.8" y="335.1" font-size="6.15" text-anchor="end" font-weight="normal" fill="#000" stroke="#000" stroke-width="0.14" >1</text>
<text x="288.8" y="322.2" font-size="6.15" text-anchor="end" font-weight="normal" fill="#000" stroke="#000" stroke-width="0.14" >2</text>
<text x="288.8" y="309.3" font-size="6.15" text-anchor="end" font-weight="normal" fill="#000" stroke="#000" stroke-width="0.14" >3</text>
<text x="288.8" y="296.4" font-size="6.15" text-anchor="end" font-weight="normal" fill="#000" stroke="#000" stroke-width="0.14" >4</text>
<text x="288.8" y="283.5" font-size="6.15" text-anchor="end" font-weight="normal" fill="#000" stroke="#000" stroke-width="0.14" >5</text>
<text x="288.8" y="270.6" font-size="6.15" text-anchor="end" font-weight="normal" fill="#000" stroke="#000" stroke-width="0.14" >6</text>
<text x="288.8" y="257.7" font-size="6.15" text-anchor="end" font-weight="normal" fill="#000" stroke="#000" stroke-width="0.14" >7</text>
<text x="288.8" y="244.8" font-size="6.15" text-anchor="end" font-weight="normal" fill="#000" stroke="#000" stroke-width="0.14" >8</text>
<text x="288.8" y="231.9" font-size="6.15" text-anchor="end" font-weight="normal" fill="#000" stroke="#000" stroke-width="0.14" >9</text>
<text x="288.8" y="219" font-size="6.15" text-anchor="end" font-weight="normal" fill="#000" stroke="#000" stroke-width="0.14" >10</text>
<line x1="294.4" y1="346" x2="294.4" y2="349.2" stroke="#555" stroke-width="0.9"/>
<line x1="312.77" y1="346" x2="312.77" y2="349.2" stroke="#555" stroke-width="0.9"/>
<line x1="331.15" y1="346" x2="331.15" y2="349.2" stroke="#555" stroke-width="0.9"/>
<line x1="349.52" y1="346" x2="349.52" y2="349.2" stroke="#555" stroke-width="0.9"/>
<line x1="367.9" y1="346" x2="367.9" y2="349.2" stroke="#555" stroke-width="0.9"/>
<line x1="386.27" y1="346" x2="386.27" y2="349.2" stroke="#555" stroke-width="0.9"/>
<line x1="404.65" y1="346" x2="404.65" y2="349.2" stroke="#555" stroke-width="0.9"/>
<line x1="423.02" y1="346" x2="423.02" y2="349.2" stroke="#555" stroke-width="0.9"/>
<line x1="441.4" y1="346" x2="441.4" y2="349.2" stroke="#555" stroke-width="0.9"/>
<line x1="459.77" y1="346" x2="459.77" y2="349.2" stroke="#555" stroke-width="0.9"/>
<line x1="478.15" y1="346" x2="478.15" y2="349.2" stroke="#555" stroke-width="0.9"/>
<line x1="496.52" y1="346" x2="496.52" y2="349.2" stroke="#555" stroke-width="0.9"/>
<line x1="514.9" y1="346" x2="514.9" y2="349.2" stroke="#555" stroke-width="0.9"/>
<text x="294.7" y="357.8" font-size="6.3" text-anchor="middle" font-weight="normal" fill="#000" stroke="#000" stroke-width="0.14" >0</text>
<text x="331.45" y="357.8" font-size="6.3" text-anchor="middle" font-weight="normal" fill="#000" stroke="#000" stroke-width="0.14" >20</text>
<text x="368.2" y="357.8" font-size="6.3" text-anchor="middle" font-weight="normal" fill="#000" stroke="#000" stroke-width="0.14" >40</text>
<text x="404.95" y="357.8" font-size="6.3" text-anchor="middle" font-weight="normal" fill="#000" stroke="#000" stroke-width="0.14" >60</text>
<text x="441.7" y="357.8" font-size="6.3" text-anchor="middle" font-weight="normal" fill="#000" stroke="#000" stroke-width="0.14" >80</text>
<text x="478.45" y="357.8" font-size="6.3" text-anchor="middle" font-weight="normal" fill="#000" stroke="#000" stroke-width="0.14" >100</text>
<text x="515.2" y="357.8" font-size="6.3" text-anchor="middle" font-weight="normal" fill="#000" stroke="#000" stroke-width="0.14" >120</text>
<path d="M332.07,344.06 L334.82,341.7 L338.5,337.9 L342.17,334.65 L345.85,331.55 L349.52,326.65 L349.25,325.42 L356.78,320.1 L358.44,313.18 L365.97,307.57 L367.62,299.86 L375.16,297.77 L376.81,290.16 L384.35,285.79 L386,282.56 L393.53,279.35 L395.19,275.1 L402.72,272.53 L404.37,271.63 L411.91,269.97 L413.56,266.75 L421.1,265.47 L422.75,263.54 L430.28,260.71 L431.94,260.33 L439.47,257.76 L441.12,252.99 L448.66,251.97 L450.31,249.14 L457.85,248.12 L459.5,247.48 L467.03,246.2 L468.69,245.56 L476.22,244.28 L477.87,243.51 L485.41,243.26 L487.06,243.27 L494.6,243.15 L496.25,243.15 L503.78,243.04 L505.44,243.04 L512.97,243.05 L514.62,243.36 L514.9,243.36 L514.9,258.33 L514.62,258.33 L512.97,258.03 L505.44,258.04 L503.78,258.04 L496.25,258.18 L494.6,258.19 L487.06,258.33 L485.41,258.33 L477.87,258.6 L476.22,259.38 L468.69,260.68 L467.03,261.33 L459.5,262.63 L457.85,263.28 L450.31,264.33 L448.66,267.17 L441.12,268.21 L439.47,272.99 L431.94,275.58 L430.28,275.97 L422.75,278.82 L421.1,280.76 L413.56,282.06 L411.91,285.29 L404.37,286.98 L402.72,287.89 L395.19,290.48 L393.53,294.74 L386,297.98 L384.35,301.21 L376.81,305.61 L375.16,313.22 L367.62,315.26 L365.97,322.51 L358.44,325.93 L356.78,331.91 L349.25,333.04 L349.52,334.39 L345.85,337.74 L342.17,339.29 L338.5,341.2 L334.82,343.85 L332.07,345.36Z" fill="rgba(105,106,110,0.40)" stroke="none"/>
<path d="M314.25,345.74 L317.37,344 L320.68,340 L324.17,332.33 L327.47,324.07 L331.15,314.39 L330.87,301.59 L338.41,296.62 L340.06,282.34 L347.6,278.93 L349.25,265.39 L356.78,263.58 L358.44,255.22 L365.97,253.48 L367.62,251.8 L375.16,251.1 L376.81,247.87 L384.35,247.17 L386,247.16 L393.53,246.73 L395.19,248.78 L402.72,248.73 L404.37,248.98 L411.91,248.93 L413.56,249.83 L421.1,250.17 L422.75,252.35 L430.28,254.14 L431.94,256.18 L439.47,256.89 L441.12,257.29 L448.66,256.29 L450.31,255.78 L457.85,255.17 L459.5,254.8 L467.03,254.57 L468.69,254.19 L476.22,254.23 L477.87,254.24 L485.41,254.14 L487.06,254.15 L494.6,254.06 L496.25,254.06 L503.78,253.97 L505.44,253.98 L512.97,253.76 L514.62,254.52 L514.9,254.52 L514.9,268.71 L514.62,268.71 L512.97,267.96 L505.44,268.26 L503.78,268.27 L496.25,268.43 L494.6,268.44 L487.06,268.6 L485.41,268.61 L477.87,268.77 L476.22,268.78 L468.69,268.82 L467.03,269.21 L459.5,269.5 L457.85,269.9 L450.31,270.58 L448.66,271.1 L441.12,272.17 L439.47,271.79 L431.94,271.22 L430.28,269.64 L422.75,269.89 L421.1,267.68 L413.56,267.25 L411.91,266.34 L404.37,266.29 L402.72,266.02 L395.19,265.97 L393.53,263.9 L386,264.24 L384.35,264.23 L376.81,264.82 L375.16,268.04 L367.62,268.63 L365.97,270.3 L358.44,270.88 L356.78,278.78 L349.25,279.03 L347.6,292.33 L340.06,294.85 L338.41,308.95 L330.87,313.01 L331.15,326 L327.47,333.1 L324.17,339.03 L320.68,344.26 L317.37,345.94 L314.25,346Z" fill="rgba(250,182,70,0.40)" stroke="none"/>
<path d="M294.4,346 L329.31,346 L332.07,344.71 L334.82,342.77 L338.5,339.55 L342.17,336.97 L345.85,334.65 L349.52,330.52 L349.25,329.23 L356.78,326 L358.44,319.56 L365.97,315.04 L367.62,307.56 L375.16,305.49 L376.81,297.88 L384.35,293.5 L386,290.27 L393.53,287.05 L395.19,282.79 L402.72,280.21 L404.37,279.31 L411.91,277.63 L413.56,274.4 L421.1,273.12 L422.75,271.18 L430.28,268.34 L431.94,267.95 L439.47,265.38 L441.12,260.6 L448.66,259.57 L450.31,256.73 L457.85,255.7 L459.5,255.06 L467.03,253.76 L468.69,253.12 L476.22,251.83 L477.87,251.06 L485.41,250.8 L487.06,250.8 L494.6,250.67 L496.25,250.67 L503.78,250.54 L505.44,250.54 L512.97,250.54 L514.62,250.84 L514.9,250.84" fill="none" stroke="#606366" stroke-width="1.0" stroke-linejoin="round"/>
<path d="M294.4,346 L314.25,346 L317.37,344.97 L320.68,342.13 L324.17,335.68 L327.47,328.58 L331.15,320.2 L330.87,307.3 L338.41,302.78 L340.06,288.6 L347.6,285.63 L349.25,272.21 L356.78,271.18 L358.44,263.05 L365.97,261.89 L367.62,260.21 L375.16,259.57 L376.81,256.35 L384.35,255.7 L386,255.7 L393.53,255.31 L395.19,257.38 L402.72,257.38 L404.37,257.63 L411.91,257.63 L413.56,258.54 L421.1,258.93 L422.75,261.12 L430.28,261.89 L431.94,263.7 L439.47,264.34 L441.12,264.73 L448.66,263.7 L450.31,263.18 L457.85,262.54 L459.5,262.15 L467.03,261.89 L468.69,261.5 L476.22,261.5 L477.87,261.5 L485.41,261.38 L487.06,261.38 L494.6,261.25 L496.25,261.25 L503.78,261.12 L505.44,261.12 L512.97,260.86 L514.62,261.62 L514.9,261.62" fill="none" stroke="#F2B346" stroke-width="1.0" stroke-linejoin="round"/>
<text x="254.3" y="181.6" font-size="7.2" text-anchor="end" font-weight="normal" fill="#000" stroke="#000" stroke-width="0.14" >Time since insulin dosing (min)</text>
<text x="254.3" y="367.6" font-size="7.2" text-anchor="end" font-weight="normal" fill="#000" stroke="#000" stroke-width="0.14" >Time since insulin dosing (min)</text>
<text x="519.8" y="181.9" font-size="7.2" text-anchor="end" font-weight="normal" fill="#000" stroke="#000" stroke-width="0.14" >Time since insulin dosing (min)</text>
<text x="519.8" y="368" font-size="7.2" text-anchor="end" font-weight="normal" fill="#000" stroke="#000" stroke-width="0.14" >Time since insulin dosing (min)</text>
<text x="0" y="0" font-size="7.3" text-anchor="middle" fill="#000" stroke="#000" stroke-width="0.14" transform="translate(6.8,94.3) rotate(-90)">Serum insulin aspart concentration (mU/L)</text>
<text x="0" y="0" font-size="7.3" text-anchor="middle" fill="#000" stroke="#000" stroke-width="0.14" transform="translate(6.8,280.1) rotate(-90)">Serum insulin aspart concentration (mU/L)</text>
<text x="0" y="0" font-size="7.2" text-anchor="middle" fill="#000" stroke="#000" stroke-width="0.14" transform="translate(273,94.4) rotate(-90)">Glucose infusion rate (mg/kg/min)</text>
<text x="0" y="0" font-size="7.2" text-anchor="middle" fill="#000" stroke="#000" stroke-width="0.14" transform="translate(273,280.5) rotate(-90)">Glucose infusion rate (mg/kg/min)</text>
<line x1="189" y1="34.2" x2="210.4" y2="34.2" stroke="#F2B346" stroke-width="1.0"/>
<line x1="189" y1="41" x2="210.4" y2="41" stroke="#74777a" stroke-width="0.9"/>
<text x="212.8" y="36.15" font-size="6.2" text-anchor="start" font-weight="normal" fill="#111" stroke="#111" stroke-width="0.14" >AT278 U500</text>
<text x="212.8" y="44" font-size="6.2" text-anchor="start" font-weight="normal" fill="#111" stroke="#111" stroke-width="0.14" >IAsp</text>
<text x="247.6" y="44" font-size="6.2" text-anchor="end" font-weight="normal" fill="#111" stroke="#111" stroke-width="0.14" >U100</text>
<line x1="189" y1="326.5" x2="210.4" y2="326.5" stroke="#F2B346" stroke-width="1.0"/>
<line x1="189" y1="333.3" x2="210.4" y2="333.3" stroke="#74777a" stroke-width="0.9"/>
<text x="212.8" y="328.45" font-size="6.2" text-anchor="start" font-weight="normal" fill="#111" stroke="#111" stroke-width="0.14" >AT278 U500</text>
<text x="212.8" y="336.3" font-size="6.2" text-anchor="start" font-weight="normal" fill="#111" stroke="#111" stroke-width="0.14" >IAsp</text>
<text x="247.6" y="336.3" font-size="6.2" text-anchor="end" font-weight="normal" fill="#111" stroke="#111" stroke-width="0.14" >U100</text>
<line x1="456.2" y1="34.25" x2="477.7" y2="34.25" stroke="#F2B346" stroke-width="1.0"/>
<line x1="456.2" y1="40.75" x2="477.7" y2="40.75" stroke="#74777a" stroke-width="0.9"/>
<text x="480.1" y="36.2" font-size="6.2" text-anchor="start" font-weight="normal" fill="#111" stroke="#111" stroke-width="0.14" >AT278 U500</text>
<text x="480.1" y="43.75" font-size="6.2" text-anchor="start" font-weight="normal" fill="#111" stroke="#111" stroke-width="0.14" >IAsp</text>
<text x="515" y="43.75" font-size="6.2" text-anchor="end" font-weight="normal" fill="#111" stroke="#111" stroke-width="0.14" >U100</text>
<line x1="456.2" y1="326.15" x2="477.3" y2="326.15" stroke="#F2B346" stroke-width="1.0"/>
<line x1="456.2" y1="333.5" x2="477.3" y2="333.5" stroke="#74777a" stroke-width="0.9"/>
<text x="479.7" y="328.1" font-size="6.2" text-anchor="start" font-weight="normal" fill="#111" stroke="#111" stroke-width="0.14" >AT278 U500</text>
<text x="479.7" y="336.5" font-size="6.2" text-anchor="start" font-weight="normal" fill="#111" stroke="#111" stroke-width="0.14" >IAsp</text>
<text x="514.5" y="336.5" font-size="6.2" text-anchor="end" font-weight="normal" fill="#111" stroke="#111" stroke-width="0.14" >U100</text>
</g>
<use href="#c" filter="url(#bl)" opacity="0.35"/>
<g id="t">
<text x="0.6" y="12.6" font-size="14.7" text-anchor="start" font-weight="bold" fill="#000" stroke="#000" stroke-width="0.2" >A</text>
<text x="0.6" y="206.8" font-size="14.7" text-anchor="start" font-weight="bold" fill="#000" stroke="#000" stroke-width="0.2" >B</text>
<text x="267" y="13.4" font-size="14.7" text-anchor="start" font-weight="bold" fill="#000" stroke="#000" stroke-width="0.2" >C</text>
<text x="267.8" y="207" font-size="14.7" text-anchor="start" font-weight="bold" fill="#000" stroke="#000" stroke-width="0.2" >D</text>
<text x="136.3" y="8.6" font-size="9.2" text-anchor="middle" font-weight="bold" fill="#111" stroke="#111" stroke-width="0.18" >Pharmacokinetics</text>
<text x="401.3" y="8.6" font-size="9.2" text-anchor="middle" font-weight="bold" fill="#111" stroke="#111" stroke-width="0.18" >Pharmacodynamics</text>
</g>
</svg></div></body></html>
